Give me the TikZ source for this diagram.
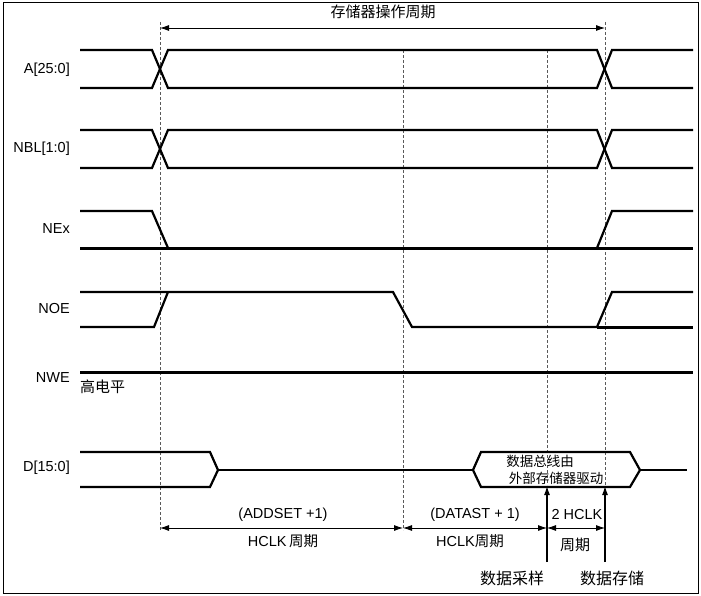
\documentclass[tikz,border=0pt]{standalone}
\usepackage{fontspec}
\setmainfont{Liberation Sans}
\newfontfamily\cjk{Noto Sans CJK SC}
\usetikzlibrary{arrows.meta}
\begin{document}
\begin{tikzpicture}[x=1pt,y=-1pt,
  sig/.style={line width=2.2pt,line join=miter},
  guide/.style={densely dashed,line width=0.9pt,gray!70!black},
  lbl/.style={anchor=east,inner sep=0pt,font=\fontsize{14.5}{16}\selectfont},
  txt/.style={inner sep=0pt,font=\fontsize{14.5}{16}\selectfont},
  ctxt/.style={inner sep=0pt,font=\cjk\fontsize{15}{17}\selectfont},
  dim/.style={line width=0.8pt,{Latex[length=9pt,width=6pt]}-{Latex[length=9pt,width=6pt]}},
  up/.style={line width=1.2pt,-{Latex[length=9pt,width=6pt]}}]
\useasboundingbox (0,0) rectangle (701,596);
\draw[line width=1pt] (3,3) rectangle (698,593);
% guides
\draw[guide] (160,22) -- (160,530);
\draw[guide] (403,50) -- (403,530);
\draw[guide] (547,50) -- (547,485);
\draw[guide] (605,22) -- (605,485);
% top arrow
\coordinate (t1) at (160,28); \coordinate (t2) at (605,28);
\draw[dim] (t1) -- (t2);
\node[ctxt] (title) at (383,12) {存储器操作周期};
% labels
\node[lbl] (lA) at (70,70) {A[25:0]};
\node[lbl] (lN) at (70,149) {NBL[1:0]};
\node[lbl] (lE) at (70,229) {NEx};
\node[lbl] (lO) at (70,309) {NOE};
\node[lbl] (lW) at (70,378) {NWE};
\node[lbl] (lD) at (70,468) {D[15:0]};
\node[ctxt,anchor=west] (hi) at (80,387) {高电平};
% A
\draw[sig] (80,50) -- (152,50) -- (168,88) -- (597,88) -- (612,50) -- (693,50);
\draw[sig] (80,88) -- (152,88) -- (168,50) -- (597,50) -- (612,88) -- (693,88);
% NBL
\draw[sig] (80,130) -- (152,130) -- (168,168) -- (597,168) -- (612,130) -- (693,130);
\draw[sig] (80,168) -- (152,168) -- (168,130) -- (597,130) -- (612,168) -- (693,168);
% NEx
\draw[sig] (80,211) -- (152,211) -- (168,248);
\draw[sig,line width=3pt] (80,248) -- (693,248);
\draw[sig] (597,248) -- (612,211) -- (693,211);
% NOE
\draw[sig] (80,292) -- (393,292) -- (412,327) -- (597,327) -- (612,292) -- (693,292);
\draw[sig] (80,327) -- (154,327) -- (168,292);
\draw[sig,line width=3pt] (597,327) -- (693,327);
% NWE
\draw[sig,line width=3pt] (80,372) -- (693,372);
% D
\draw[sig] (80,452) -- (210,452) -- (218,470) -- (210,487) -- (80,487);
\draw[sig] (218,470) -- (473,470);
\draw[sig] (473,470) -- (481,452) -- (630,452) -- (640,470) -- (630,487) -- (481,487) -- cycle;
\draw[sig] (640,470) -- (687,470);
\node[ctxt,font=\cjk\fontsize{13.5}{15}\selectfont] (d1) at (540,461) {数据总线由};
\node[ctxt,font=\cjk\fontsize{13.5}{15}\selectfont] (d2) at (556,478) {外部存储器驱动};
% bottom dims
\coordinate (b1) at (160,528); \coordinate (b2) at (403,528);
\coordinate (b3) at (547,528); \coordinate (b4) at (605,528);
\draw[dim] (b1) -- (b2);
\draw[dim] (b2) -- (b3);
\draw[dim] (b3) -- (b4);
\node[txt] (a1) at (283,515) {(ADDSET +1)};
\node[txt] (a2) at (283,541) {HCLK\,{\cjk 周期}};
\node[txt] (a3) at (475,515) {(DATAST + 1)};
\node[txt] (a4) at (470,541) {HCLK{\cjk 周期}};
\node[txt] (a5) at (577,515) {2 HCLK};
\node[ctxt] (a6) at (575,545) {周期};
\coordinate (s1) at (547,562); \coordinate (s2) at (547,486);
\coordinate (r1) at (605,562); \coordinate (r2) at (605,486);
\draw[up] (s1) -- (s2);
\draw[up] (r1) -- (r2);
\node[ctxt,font=\cjk\fontsize{16}{18}\selectfont] (c1) at (512,578) {数据采样};
\node[ctxt,font=\cjk\fontsize{16}{18}\selectfont] (c2) at (612,578) {数据存储};
\end{tikzpicture}
\end{document}
